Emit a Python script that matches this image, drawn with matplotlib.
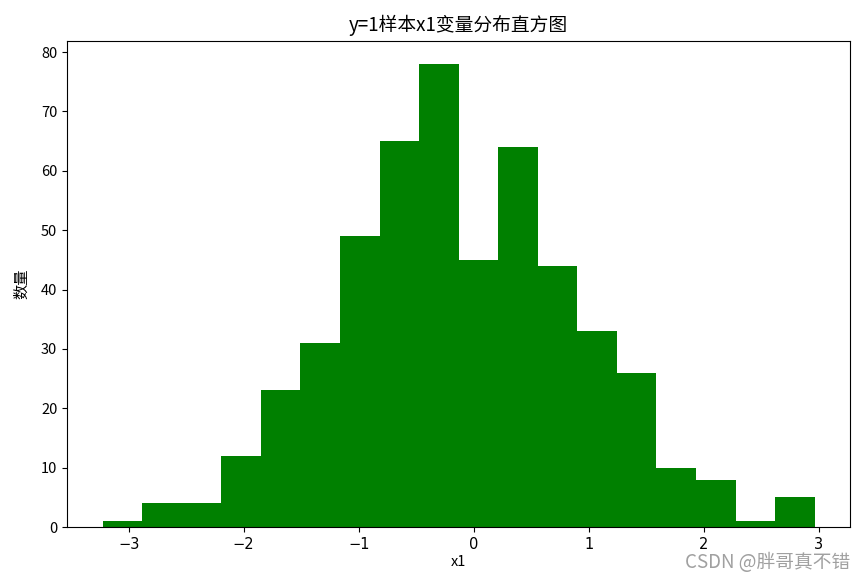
import numpy as np
import matplotlib
matplotlib.use('Agg')
import matplotlib.pyplot as plt

plt.rcParams['font.family'] = ['Noto Sans CJK SC', 'DejaVu Sans']
plt.rcParams['axes.unicode_minus'] = False

# histogram of x1 for the y=1 sample
x_min = -3.226
x_max = 2.965
counts = [1, 4, 4, 12, 23, 31, 49, 65, 78, 45, 64, 44, 33, 26, 10, 8, 1, 5]

edges = np.linspace(x_min, x_max, len(counts) + 1)
centers = (edges[:-1] + edges[1:]) / 2

fig = plt.figure(figsize=(8.65, 5.83), dpi=100)
ax = fig.add_axes([0.0775, 0.096, 0.9055, 0.834])
ax.hist(centers, bins=edges, weights=counts, color='green')
ax.set_title('y=1样本x1变量分布直方图', fontsize=13.5, pad=7)
ax.set_xlabel('x1', fontsize=10.5, labelpad=2)
ax.set_ylabel('数量', fontsize=11, labelpad=8)
ax.set_xticks([-3, -2, -1, 0, 1, 2, 3])
ax.set_xticklabels(['−3', '−2', '−1', '0', '1', '2', '3'], family=['DejaVu Sans'])
ax.tick_params(labelsize=10.5)

fig.text(0.983, 0.018, 'CSDN @胖哥真不错', ha='right', va='bottom',
         fontsize=13.5, color='#a0a0a0')

fig.savefig('out.png', dpi=100)
